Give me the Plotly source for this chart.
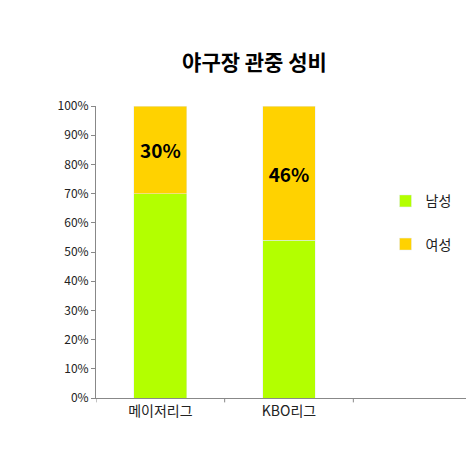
import plotly.graph_objects as go

categories = ["메이저리그", "KBO리그"]
male = [70, 54]
female = [30, 46]
labels = ["30%", "46%"]

x = list(range(len(categories)))
fig = go.Figure()
fig.add_bar(x=x, y=male, name="남성", legendgroup="m", marker_color="#B3FF00", width=0.41, hoverinfo="skip")
fig.add_bar(x=x, y=female, name="여성", legendgroup="f", marker_color="#FFD200", width=0.41, text=labels,
            textposition="inside", insidetextanchor="middle",
            textfont=dict(size=19, color="black", family="Noto Sans CJK KR", weight="bold"), hoverinfo="skip")
fig.update_layout(
    barmode="stack", width=474, height=475, plot_bgcolor="white", paper_bgcolor="white",
    margin=dict(l=88, r=0, t=98, b=85, autoexpand=False),
    font=dict(family="Noto Sans CJK KR", size=12, color="#222"),
    title=dict(text="<b>야구장 관중 성비</b>", x=0.52, xanchor="center", y=0.885, yanchor="middle",
               font=dict(size=21, color="black")),
    legend=dict(x=0.75, y=0.6, xanchor="left", yanchor="middle", traceorder="reversed+grouped",
                font=dict(size=14), tracegroupgap=22, itemwidth=30, bgcolor="rgba(0,0,0,0)"),
    showlegend=True,
)
fig.update_xaxes(range=[-0.5, 2.5], tickmode="array", tickvals=x, ticktext=categories,
                 showline=True, linecolor="#888", showgrid=False, ticks="", tickfont=dict(size=14))
for b in [-0.5, 0.5, 1.5]:
    fig.add_shape(type="line", xref="x", yref="paper", x0=b, x1=b, y0=0, y1=-0.015,
                  line=dict(color="#888", width=1))
fig.update_yaxes(range=[0, 100], dtick=10, ticksuffix="%", showline=True, linecolor="#888",
                 showgrid=False, ticks="outside", ticklen=4, tickcolor="#888", tickfont=dict(size=12))
fig.write_html("out.html")
